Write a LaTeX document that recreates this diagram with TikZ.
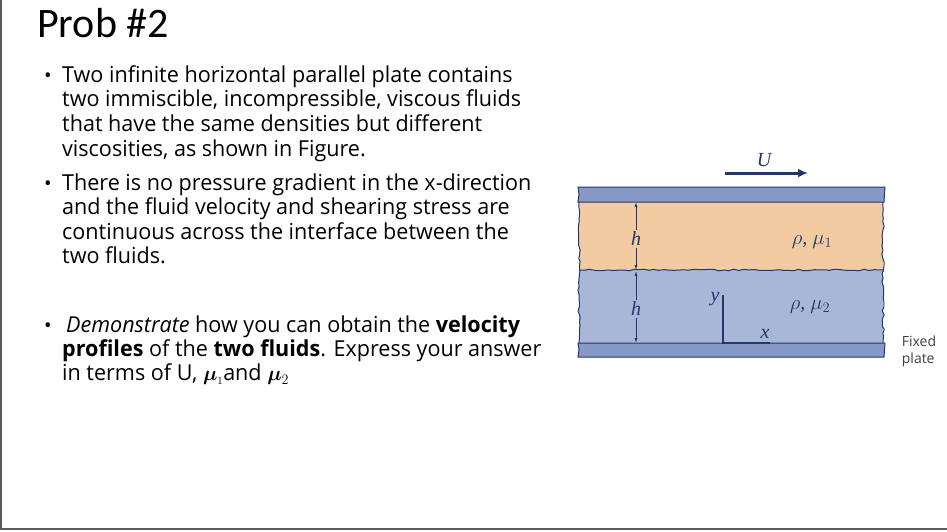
\documentclass[tikz,border=0pt]{standalone}
\usepackage{amsmath}
\usepackage{fontspec}
\setmainfont{Open Sans}
\newfontfamily\titlefont{Carlito}
\newfontfamily\serif{Liberation Serif}
\usetikzlibrary{decorations.pathmorphing,arrows.meta}
\definecolor{navy}{RGB}{35,55,105}
\definecolor{fluidA}{RGB}{242,203,162}
\definecolor{fluidB}{RGB}{168,182,216}
\definecolor{plateC}{RGB}{135,153,198}
\tikzset{
 txt/.style={anchor=base west,inner sep=0pt,font=\fontsize{22}{24}\selectfont,xscale=0.98},
 bul/.style={anchor=base west,inner sep=0pt,font=\fontsize{20}{22}\selectfont},
 wig/.style={decorate,decoration={random steps,segment length=4pt,amplitude=1.2pt}},
 edge/.style={draw=navy,line width=1pt},
 dim/.style={navy,line width=0.8pt,-{Latex[length=5pt,width=3pt]}},
 lab/.style={font=\serif\itshape\fontsize{20}{22}\selectfont,text=navy,inner sep=1pt},
}
\begin{document}
\begin{tikzpicture}[x=1pt,y=-1pt]
\useasboundingbox (0,0) rectangle (947,531);
\draw[gray!70!black,line width=1.5pt] (1,-2) -- (1,529) -- (950,529);
\node[anchor=base west,inner sep=0pt,font=\titlefont\fontsize{42}{44}\selectfont] (title) at (37,37) {Prob \#2};
\node[bul] (b1) at (44,82) {•};
\node[txt] (l1) at (62,82) {Two infinite horizontal parallel plate contains};
\node[txt] (l2) at (62,106) {two immiscible, incompressible, viscous fluids};
\node[txt] (l3) at (62,131) {that have the same densities but different};
\node[txt] (l4) at (62,156) {viscosities, as shown in Figure.};
\node[bul] (b2) at (44,190) {•};
\node[txt] (l5) at (62,190) {There is no pressure gradient in the x-direction};
\node[txt] (l6) at (62,214) {and the fluid velocity and shearing stress are};
\node[txt] (l7) at (62,239) {continuous across the interface between the};
\node[txt] (l8) at (62,263) {two fluids.};
\node[bul] (b3) at (44,332) {•};
\node[txt] (l9) at (66,332) {\textit{Demonstrate} how you can obtain the \textbf{velocity}};
\node[txt] (l10) at (62,356) {\textbf{profiles} of the \textbf{two fluids}. Express your answer};
\node[txt] (l11) at (62,380) {in terms of U, $\boldsymbol{\mu}_{\scriptscriptstyle 1}$and $\boldsymbol{\mu}_2$};
% figure
\fill[fluidA] (579,202) rectangle (883,270);
\fill[fluidB] (579,270) rectangle (883,343);
\draw[edge,wig] (579,202) -- (579,343);
\draw[edge,wig] (883,202) -- (883,343);
\draw[edge,decorate,decoration={random steps,segment length=5pt,amplitude=0.8pt}] (579,270) -- (883,270);
\filldraw[fill=plateC,draw=navy,line width=1pt] (578,187) -- (885,187) -- (884,202) -- (578,202) -- (579,194) -- cycle;
\filldraw[fill=plateC,draw=navy,line width=1pt] (578,343) -- (885,343) -- (884,357) -- (578,357) -- (579,350) -- cycle;
\coordinate (ua) at (725,173); \coordinate (ub) at (808,173);
\draw[navy,line width=3pt,-{Latex[length=10pt,width=9pt]}] (ua) -- (ub);
\node[lab] (U) at (764,160) {U};
\coordinate (t1) at (636,202); \coordinate (m1) at (636,270); \coordinate (b1c) at (636,343);
\node[lab,fill=fluidA,inner sep=1.5pt] (h1) at (636,239) {h};
\node[lab,fill=fluidB,inner sep=1.5pt] (h2) at (636,309) {h};
\draw[dim] (h1) -- (t1); \draw[dim] (h1) -- (m1);
\draw[dim] (h2) -- ([yshift=-1pt]m1); \draw[dim] (h2) -- (b1c);
\coordinate (o) at (723,343); \coordinate (yt) at (723,295); \coordinate (xe) at (770,343);
\draw[navy,line width=1.3pt] (yt) -- (o) -- (xe);
\node[lab] (yl) at (715,299) {y};
\node[lab] (xl) at (765,334) {x};
\node[lab] (r1) at (812,242) {$\rho$, $\mu_1$};
\node[lab] (r2) at (810,307) {$\rho$, $\mu_2$};
\node[font=\fontsize{14}{17}\selectfont,text=black!75,align=left,inner sep=0pt] (fp) at (919,351) {Fixed\\plate};
\end{tikzpicture}
\end{document}
